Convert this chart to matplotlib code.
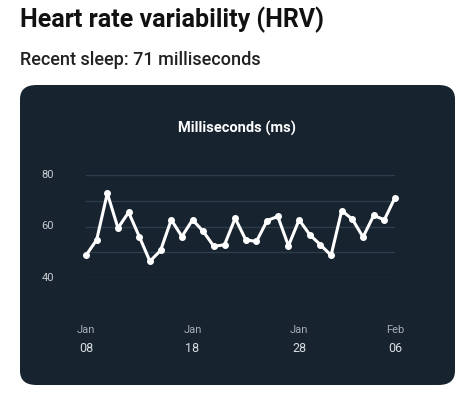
import matplotlib
matplotlib.use("Agg")
import matplotlib.pyplot as plt
from matplotlib.patches import FancyBboxPatch

days = list(range(30))
hrv = [48.8, 54.8, 72.9, 59.4, 65.5, 56.1, 46.5, 50.7, 62.6, 56.1,
       62.6, 58.1, 52.3, 52.9, 63.2, 54.8, 54.2, 62.3, 63.9, 52.5,
       62.6, 56.8, 52.9, 48.8, 66.2, 62.8, 55.9, 64.3, 62.6, 71.2]
tick_pos = [0, 10, 20, 29]
tick_month = ["Jan", "Jan", "Jan", "Feb"]
tick_day = ["08", "18", "28", "06"]
yticks = [40, 60, 80]

W, H = 474, 404
fig = plt.figure(figsize=(W/100, H/100), dpi=100, facecolor="white")
plt.rcParams['font.family'] = ['Roboto', 'DejaVu Sans']

fig.text(20/W, 1-20/H, "Heart rate variability (HRV)", fontsize=18, fontweight="bold",
         color="#111111", va="center", ha="left")
fig.text(20/W, 1-60/H, "Recent sleep: 71 milliseconds", fontsize=13, fontweight="medium",
         color="#222222", va="center", ha="left")

panel = FancyBboxPatch((20/W, 1-385/H), 435/W, 300/H,
                       boxstyle="round,pad=0,rounding_size=0.035",
                       transform=fig.transFigure, facecolor="#17232f", edgecolor="none",
                       zorder=-5)
fig.patches.append(panel)
fig.text(237/W, 1-128/H, "Milliseconds (ms)", fontsize=10.5, fontweight="bold",
         color="white", ha="center", va="center")

ax = fig.add_axes([86/W, 1-278/H, 309/W, 103/H], zorder=5)
ax.patch.set_visible(False)
ax.set_xlim(0, 29)
ax.set_ylim(40, 80)
for v in [40, 50, 60, 70, 80]:
    ax.axhline(v, color="#2e3d4a", lw=1, zorder=1)
ax.plot(days, hrv, color="white", lw=2.2, marker="o", ms=4, clip_on=False, zorder=3)
for s in ax.spines.values():
    s.set_visible(False)
ax.set_xticks([])
ax.set_yticks([])
for v in yticks:
    fig.text(48/W, ax.transData.transform((0, v))[1]/H, str(v), color="#c8cdd2",
             fontsize=8, ha="center", va="center")
for p, m, d in zip(tick_pos, tick_month, tick_day):
    x = ax.transData.transform((p, 0))[0]/W
    fig.text(x, 1-330/H, m, color="#a5adb5", fontsize=8, ha="center", va="center")
    fig.text(x, 1-348/H, d, color="#d8dde2", fontsize=9, ha="center", va="center")

fig.savefig("out.png", dpi=100, facecolor="white")
